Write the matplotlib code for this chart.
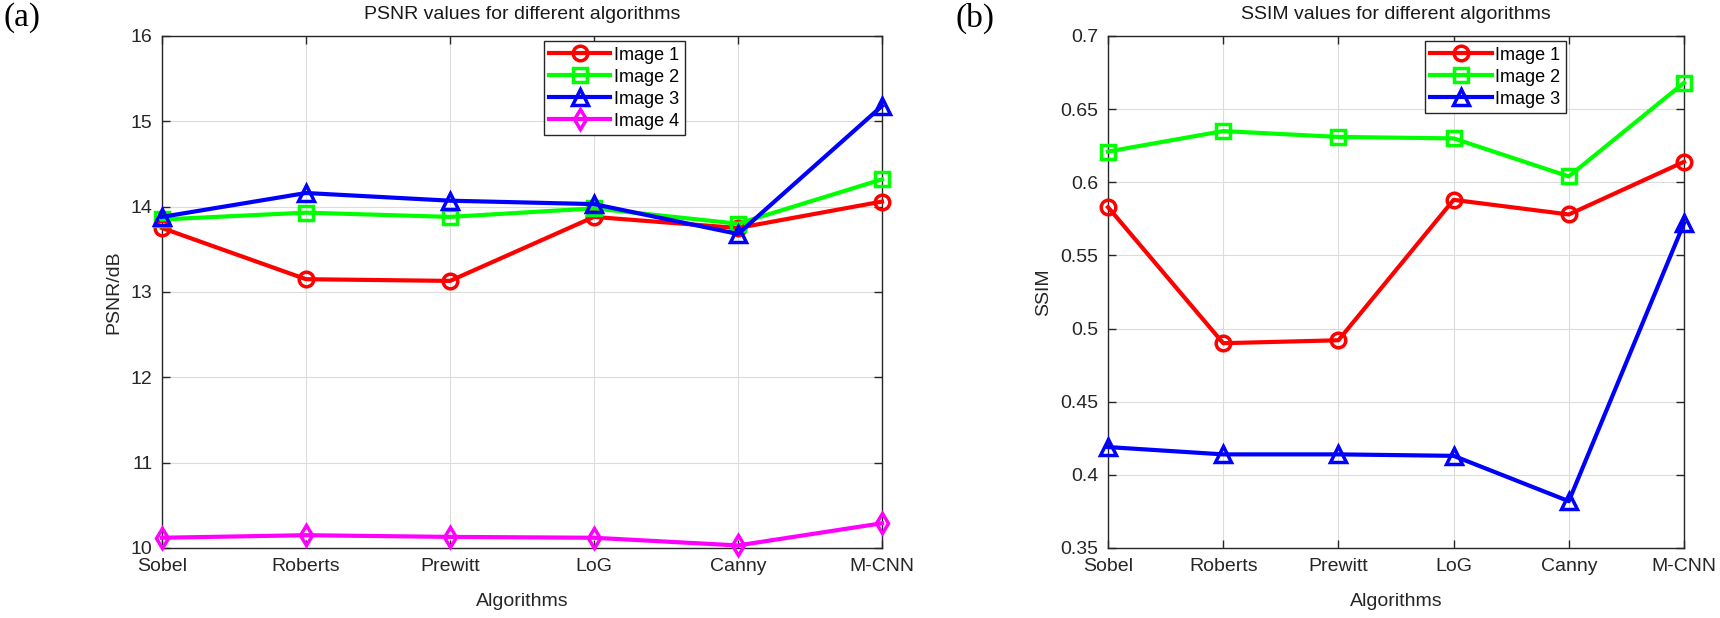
import matplotlib
matplotlib.use("Agg")
import matplotlib.pyplot as plt
from matplotlib import font_manager

algorithms = ["Sobel", "Roberts", "Prewitt", "LoG", "Canny", "M-CNN"]

psnr_img1 = [13.75, 13.15, 13.13, 13.88, 13.75, 14.06]
psnr_img2 = [13.85, 13.93, 13.88, 13.98, 13.80, 14.32]
psnr_img3 = [13.88, 14.16, 14.07, 14.03, 13.68, 15.18]
psnr_img4 = [10.12, 10.15, 10.13, 10.12, 10.03, 10.29]

ssim_img1 = [0.583, 0.490, 0.492, 0.588, 0.578, 0.614]
ssim_img2 = [0.621, 0.635, 0.631, 0.630, 0.604, 0.668]
ssim_img3 = [0.419, 0.414, 0.414, 0.413, 0.382, 0.572]

psnr_ticks = [10, 11, 12, 13, 14, 15, 16]
ssim_ticks = [0.35, 0.4, 0.45, 0.5, 0.55, 0.6, 0.65, 0.7]
ssim_ticklabels = ["0.35", "0.4", "0.45", "0.5", "0.55", "0.6", "0.65", "0.7"]

names = {f.name for f in font_manager.fontManager.ttflist}
sans = "Liberation Sans Narrow" if "Liberation Sans Narrow" in names else "Liberation Sans"
plt.rcParams["font.family"] = [sans, "DejaVu Sans"]
plt.rcParams["font.size"] = 14

styles = [
    dict(color=(1, 0, 0), marker="o", label="Image 1"),
    dict(color=(0, 1, 0), marker="s", label="Image 2"),
    dict(color=(0, 0, 1), marker="^", label="Image 3"),
    dict(color=(1, 0, 1), marker="d", label="Image 4"),
]

fig = plt.figure(figsize=(17.2, 6.18), dpi=100)
ax1 = fig.add_axes([162 / 1720, 70 / 618, 720 / 1720, 512 / 618])
ax2 = fig.add_axes([1108 / 1720, 70 / 618, 576 / 1720, 512 / 618])

x = list(range(len(algorithms)))


def draw(ax, series, title, ylabel, ylim, yticks, yticklabels, leg_x):
    for vals, st in zip(series, styles):
        ms = 12 if st["marker"] == "^" else 10.5
        ax.plot(x, vals, color=st["color"], marker=st["marker"], label=st["label"],
                linewidth=3, markersize=ms, markerfacecolor="none",
                markeredgewidth=2.5, clip_on=False, zorder=3)
    ax.set_xlim(0, len(algorithms) - 1)
    ax.set_ylim(*ylim)
    ax.set_xticks(x)
    ax.set_xticklabels(algorithms)
    ax.set_yticks(yticks)
    ax.set_yticklabels(yticklabels)
    ax.tick_params(direction="in", top=True, right=True, length=6, width=1,
                   labelsize=14, colors="#262626", pad=7)
    ax.grid(True, color="#dcdcdc", linewidth=0.8)
    ax.set_axisbelow(True)
    for sp in ax.spines.values():
        sp.set_color("#262626")
        sp.set_linewidth(1)
    ax.set_title(title, fontsize=14, pad=12, color="#1a1a1a")
    ax.set_xlabel("Algorithms", fontsize=14, color="#262626", labelpad=13)
    ax.set_ylabel(ylabel, fontsize=14, color="#262626", labelpad=6)
    leg = ax.legend(loc="upper left", bbox_to_anchor=(leg_x, 0.99), fontsize=13,
                    handlelength=3.4, handletextpad=0.2, labelspacing=0.28,
                    borderpad=0.3, borderaxespad=0, fancybox=False,
                    framealpha=1, edgecolor="#262626")
    leg.get_frame().set_linewidth(1)


draw(ax1, [psnr_img1, psnr_img2, psnr_img3, psnr_img4],
     "PSNR values for different algorithms", "PSNR/dB",
     (10, 16), psnr_ticks, [str(t) for t in psnr_ticks], 0.53)
draw(ax2, [ssim_img1, ssim_img2, ssim_img3],
     "SSIM values for different algorithms", "SSIM",
     (0.35, 0.7), ssim_ticks, ssim_ticklabels, 0.55)

fig.text(22 / 1720, 1 - 18 / 618, "(a)", family="Liberation Serif", fontsize=24,
         ha="center", va="center")
fig.text(975 / 1720, 1 - 18 / 618, "(b)", family="Liberation Serif", fontsize=24,
         ha="center", va="center")

fig.savefig("out.png", dpi=100)
